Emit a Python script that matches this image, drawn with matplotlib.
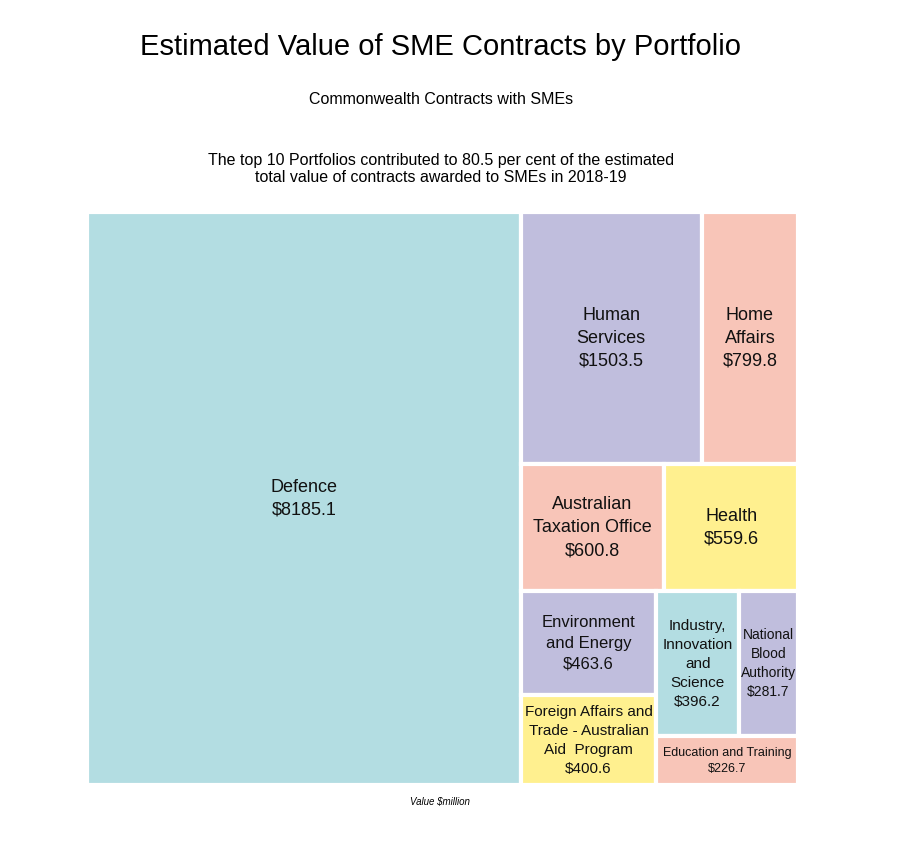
import matplotlib.pyplot as plt
from matplotlib.patches import Rectangle

plt.rcParams['font.family'] = ['Liberation Sans', 'DejaVu Sans']

# Portfolio data ($million)
portfolios = ['Defence', 'Human\nServices', 'Home\nAffairs', 'Australian\nTaxation Office',
              'Health', 'Environment\nand Energy', 'Foreign Affairs and\nTrade - Australian\nAid  Program',
              'Industry,\nInnovation\nand\nScience', 'National\nBlood\nAuthority', 'Education and Training']
values = [8185.1, 1503.5, 799.8, 600.8, 559.6, 463.6, 400.6, 396.2, 281.7, 226.7]
colors = ['#b3dde2', '#c0bedd', '#f8c5b8', '#f8c5b8', '#fff08f',
          '#c0bedd', '#fff08f', '#b3dde2', '#c0bedd', '#f8c5b8']
label_sizes = [13, 13, 13, 13, 13, 12, 11, 11, 10, 9]

# nesting of the treemap: 'h' splits side by side, 'v' stacks top to bottom
layout = ('h', [0, ('v', [('h', [1, 2]),
                          ('h', [3, 4]),
                          ('h', [('v', [5, 6]),
                                 ('v', [('h', [7, 8]), 9])])])])


def total(node):
    if isinstance(node, int):
        return values[node]
    return sum(total(c) for c in node[1])


def place(node, x, y, w, h, out):
    # y is the top edge, going down
    if isinstance(node, int):
        out[node] = (x, y, w, h)
        return
    direction, children = node
    tot = total(node)
    pos = 0.0
    for c in children:
        frac = total(c) / tot
        if direction == 'h':
            place(c, x + pos * w, y, w * frac, h, out)
        else:
            place(c, x, y + pos * h, w, h * frac, out)
        pos += frac


rects = {}
place(layout, 0.0, 0.0, 1.0, 1.0, rects)

fig = plt.figure(figsize=(9, 8.42), dpi=100)
ax = fig.add_axes([87 / 900, 1 - 785 / 842, 711 / 900, 573 / 842])
ax.set_xlim(0, 1)
ax.set_ylim(1, 0)
ax.axis('off')

for i, name in enumerate(portfolios):
    x, y, w, h = rects[i]
    ax.add_patch(Rectangle((x, y), w, h, facecolor=colors[i], edgecolor='white', linewidth=3))
    ax.text(x + w / 2, y + h / 2, f"{name}\n${values[i]:.1f}", ha='center', va='center',
            fontsize=label_sizes[i], color='#111111', linespacing=1.45)

fig.text(0.49, 0.944, 'Estimated Value of SME Contracts by Portfolio', ha='center', va='center',
         fontsize=21)
fig.text(0.49, 0.882, 'Commonwealth Contracts with SMEs', ha='center', va='center', fontsize=11.5)
fig.text(0.49, 0.799, 'The top 10 Portfolios contributed to 80.5 per cent of the estimated\n'
         'total value of contracts awarded to SMEs in 2018-19', ha='center', va='center',
         fontsize=11.5, linespacing=1.15)
fig.text(0.489, 0.0475, 'Value $million', ha='center', va='center', fontsize=7, style='italic')

fig.savefig('out.png', dpi=100, facecolor='white')
